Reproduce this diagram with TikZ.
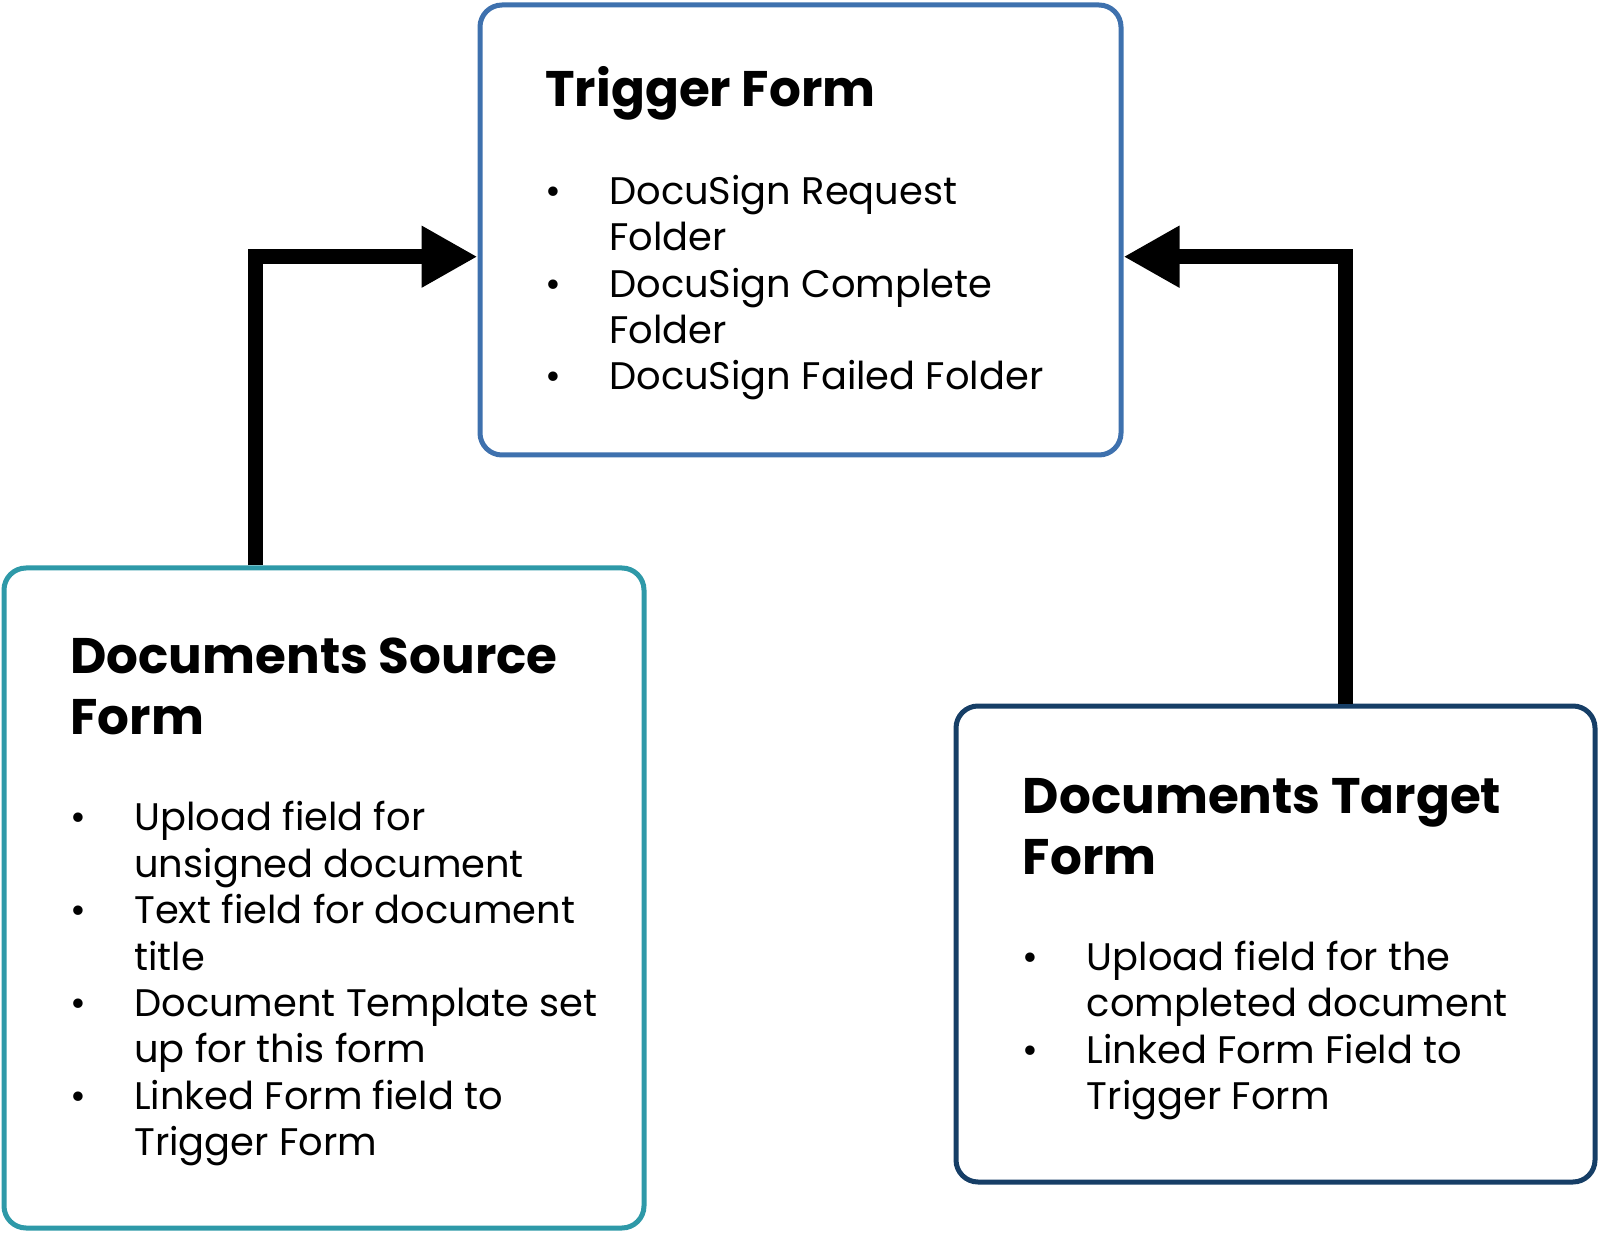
\documentclass[tikz,border=0pt]{standalone}
\usepackage{fontspec}
\setmainfont{Poppins}
\usetikzlibrary{arrows.meta,calc}

\definecolor{trigblue}{HTML}{3E71AE}
\definecolor{srcteal}{HTML}{2E99A8}
\definecolor{tgtnavy}{HTML}{163E66}

\tikzset{
  formbox/.style={draw=#1, line width=2.5pt, rounded corners=11pt, fill=white, inner sep=0pt},
  formtitle/.style={anchor=base west, inner sep=0pt, align=left, font=\fontsize{25pt}{30.5pt}\selectfont\bfseries},
  formlist/.style={anchor=base west, inner sep=0pt, font=\fontsize{19.2pt}{23.2pt}\selectfont},
  link/.style={line width=7.5pt, -{Triangle[length=28pt,width=29pt]}}
}

\begin{document}
\begin{tikzpicture}[x=0.5pt,y=-0.5pt]
  \useasboundingbox (0,0) rectangle (1600,1234);

  % Boxes
  \node[formbox=trigblue, minimum width=320.5pt, minimum height=225pt] (trigger) at (800.5,230) {};
  \node[formbox=srcteal, minimum width=320pt, minimum height=330pt] (source) at (324,898) {};
  \node[formbox=tgtnavy, minimum width=319.5pt, minimum height=238pt] (target) at (1275.5,944) {};

  % Top shape
  \begin{scope}[shift={(480,5)}]
    \node[formtitle] (trigtitle) at (65,101.7) {Trigger Form};
    \node[formlist] (triglist) at (65,199.3) {\begin{tabular}[t]{@{}p{32pt}@{}l@{}}
      \textbullet & DocuSign Request\\
                  & Folder\\
      \textbullet & DocuSign Complete\\
                  & Folder\\
      \textbullet & DocuSign Failed Folder
    \end{tabular}};
  \end{scope}

  % Left shape
  \begin{scope}[shift={(4,568)}]
    \node[formtitle] (srctitle) at (66,166.3) {Documents Source\\Form};
    \node[formlist] (srclist) at (66,262.8) {\begin{tabular}[t]{@{}p{32pt}@{}l@{}}
      \textbullet & Upload field for\\
                  & unsigned document\\
      \textbullet & Text field for document\\
                  & title\\
      \textbullet & Document Template set\\
                  & up for this form\\
      \textbullet & Linked Form field to\\
                  & Trigger Form
    \end{tabular}};
  \end{scope}

  % Right shape
  \begin{scope}[shift={(956,706)}]
    \node[formtitle] (tgttitle) at (66.5,168) {Documents Target\\Form};
    \node[formlist] (tgtlist) at (66.5,264.5) {\begin{tabular}[t]{@{}p{32pt}@{}l@{}}
      \textbullet & Upload field for the\\
                  & completed document\\
      \textbullet & Linked Form Field to\\
                  & Trigger Form
    \end{tabular}};
  \end{scope}

  % Links
  \draw[link] ($(source.north)+(-69,0)$) |- ($(trigger.west)+(0,26.7)$);
  \draw[link] ($(target.north)+(69.5,0)$) |- ($(trigger.east)+(0,26.7)$);
\end{tikzpicture}
\end{document}
